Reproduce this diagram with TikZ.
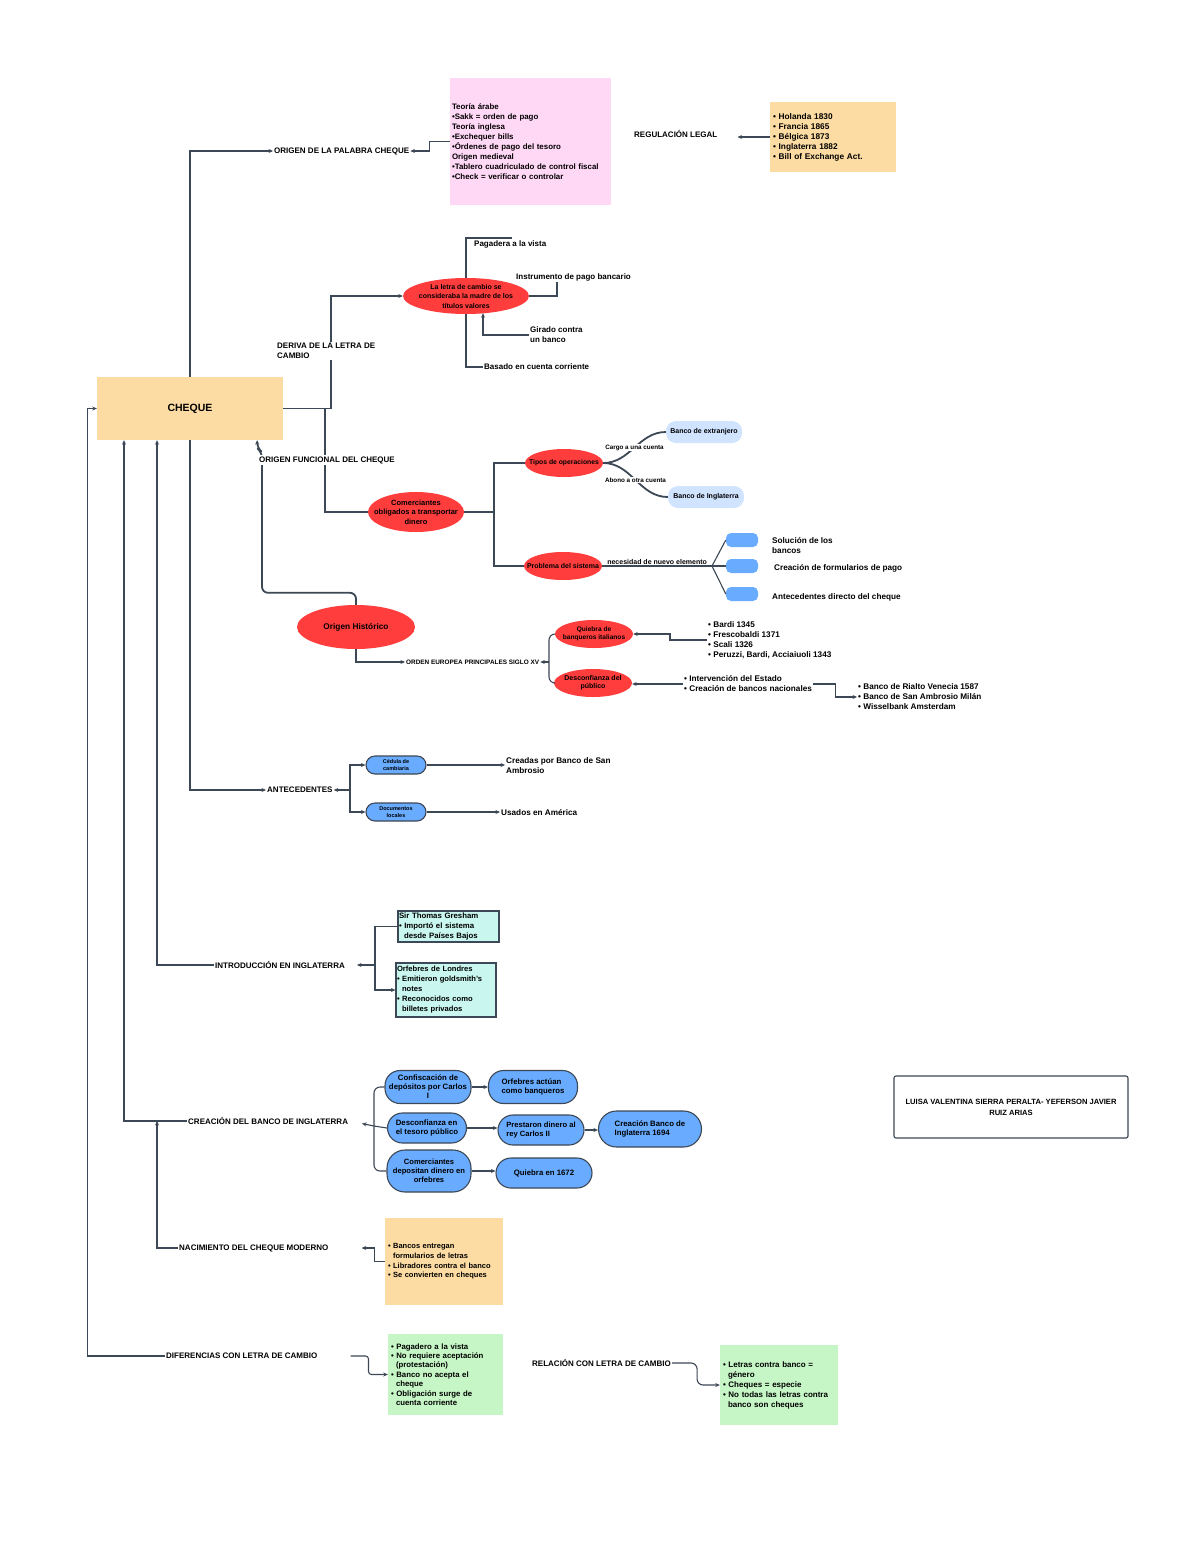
\documentclass[tikz,border=0pt]{standalone}
\usepackage{fontspec}
\setmainfont{Liberation Sans}
\usepackage{xcolor}
\usepackage{tikz}
\usetikzlibrary{shapes, arrows.meta, positioning, calc, shapes.geometric}

\definecolor{cheqorange}{HTML}{FDDCA3}
\definecolor{notepink}{HTML}{FFD8F6}
\definecolor{ovalred}{HTML}{FF3D3D}
\definecolor{paleblue}{HTML}{D0E3FF}
\definecolor{pillblue}{HTML}{68ABFF}
\definecolor{paleteal}{HTML}{C9F6EE}
\definecolor{palegreen}{HTML}{C6F6C6}
\definecolor{wire}{HTML}{3D4856}

\newcommand{\setfs}[2]{\fontsize{#1}{#2}\selectfont}

\begin{document}
\begin{tikzpicture}[x=1pt, y=-1pt,
    every node/.style={inner sep=1pt, font=\setfs{8}{10}\bfseries},
    tag/.style={anchor=west, align=left},
    note/.style={rectangle, align=left, inner sep=3pt},
    oval/.style={ellipse, fill=ovalred, inner sep=0pt},
    ovaltext/.style={align=center, inner sep=0pt},
    soft/.style={rectangle, rounded corners=10, fill=paleblue, align=center},
    pill/.style={rectangle, rounded corners=#1, draw=wire, line width=1.1pt, fill=pillblue, align=center, inner sep=1pt},
    link/.style={draw=wire, line width=1.1pt},
    trunk/.style={draw=wire, line width=1.8pt},
    arr/.style={-{Stealth[length=4.5pt, width=4pt]}}
]
\fill[white] (0,0) rectangle (1200,1553);
\useasboundingbox (0,0) rectangle (1200,1553);

% Central node
\node[rectangle, fill=cheqorange, minimum width=186, minimum height=63, font=\setfs{10.5}{12}\bfseries] (cheque) at (190,408.5) {CHEQUE};

% Origen de la palabra
\node[note, fill=notepink, text width=157, inner sep=2pt, minimum height=127, font=\setfs{7.9}{10}\bfseries] (palabraNote) at (530.5,141.5) {Teoría árabe\\•Sakk = orden de pago\\Teoría inglesa\\•Exchequer bills\\•Órdenes de pago del tesoro\\Origen medieval\\•Tablero cuadriculado de control fiscal\\•Check = verificar o controlar};
\node[tag] (palabra) at (273,151) {ORIGEN DE LA PALABRA CHEQUE};
\draw[trunk, arr] (cheque.north) |- (palabra.west);
\draw[link, arr] (palabraNote.west) -- ++(-20,0) |- (palabra.east);

% Regulacion legal
\node[note, fill=cheqorange, text width=120, minimum height=70, font=\setfs{8.3}{10}\bfseries] (leyes) at (833,137) {• Holanda 1830\\• Francia 1865\\• Bélgica 1873\\• Inglaterra 1882\\• Bill of Exchange Act.};
\node[tag] (regulacion) at (633,134) {REGULACIÓN LEGAL};
\draw[link, arr, shorten >=19pt] (leyes.west) -- (leyes.west -| regulacion.east);

% Deriva de la letra de cambio
\node[oval, minimum width=126, minimum height=36] (letra) at (466,296) {};
\node[ovaltext, font=\setfs{7}{9.5}\bfseries] (letraTxt) at (letra) {La letra de cambio se\\consideraba la madre de los\\títulos valores};
\draw[trunk, arr] (cheque.east) -- ++(48,0) |- (letra.west);
\node[tag, fill=white] (deriva) at (276,351) {DERIVA DE LA LETRA DE\\CAMBIO};
\node[tag] (pagadera) at (473,244) {Pagadera a la vista};
\coordinate (pagEnd) at (512,238);
\draw[link] (letra.north) |- (pagEnd);
\node[tag] (instrumento) at (515,277) {Instrumento de pago bancario};
\draw[trunk] (letra.east) -| (instrumento.south -| 557,0);
\node[tag] (girado) at (529,335) {Girado contra\\un banco};
\draw[link, arr] (girado.west) -| ($(letra.south)+(17,-1)$);
\node[tag] (basado) at (483,367) {Basado en cuenta corriente};
\draw[trunk] (letra.south) |- (basado.west);

% Origen funcional
\node[oval, minimum width=96, minimum height=40] (comerciantes) at (416,512) {};
\node[ovaltext, font=\setfs{7.5}{9.5}\bfseries] (comerciantesTxt) at (comerciantes) {Comerciantes\\obligados a transportar\\dinero};
\draw[trunk] (cheque.east) -- ++(42,0) |- (comerciantes.west);
\node[oval, minimum width=78, minimum height=28] (tipos) at (564,463) {};
\node[ovaltext, font=\setfs{6.8}{9}\bfseries] (tiposTxt) at (tipos) {Tipos de operaciones};
\node[oval, minimum width=78, minimum height=28] (problema) at (563,566) {};
\node[ovaltext, font=\setfs{7}{9}\bfseries] (problemaTxt) at (problema) {Problema del sistema};
\coordinate (forkA) at (494,512);
\draw[link] (comerciantes.east) -- (forkA);
\draw[link] (tipos.west) -| (forkA) |- (problema.west);

\node[soft, minimum width=76, minimum height=22, font=\setfs{7}{8}\bfseries] (bancoExt) at (704,432) {Banco de extranjero};
\node[soft, minimum width=76, minimum height=22, font=\setfs{7}{8}\bfseries] (bancoIng) at (706,497) {Banco de Inglaterra};
\draw[trunk] (tipos.east) to[out=0, in=180] node[midway, fill=white, inner sep=0.5pt, font=\setfs{6.3}{7}\bfseries] {Cargo a una cuenta} (bancoExt.west);
\draw[trunk] (tipos.east) to[out=0, in=180] node[midway, fill=white, inner sep=0.5pt, font=\setfs{6.3}{7}\bfseries] {Abono a otra cuenta} (bancoIng.west);

\coordinate (fan) at (712,566);
\draw[link] (problema.east) -- node[above, font=\setfs{7}{8}\bfseries] {necesidad de nuevo elemento} (fan);
\node[rectangle, rounded corners=5, fill=pillblue, minimum width=32, minimum height=14] (sol1) at (742,540) {};
\node[rectangle, rounded corners=5, fill=pillblue, minimum width=32, minimum height=14] (sol2) at (742,566) {};
\node[rectangle, rounded corners=5, fill=pillblue, minimum width=32, minimum height=14] (sol3) at (742,594) {};
\draw[link] (fan) -- (sol1.west);
\draw[link] (fan) -- (sol2.west);
\draw[link] (fan) -- (sol3.west);
\node[tag, font=\setfs{8.2}{10}\bfseries] (solTxt1) at (771,546) {Solución de los\\bancos};
\node[tag, font=\setfs{8.2}{10}\bfseries] (solTxt2) at (773,568) {Creación de formularios de pago};
\node[tag, font=\setfs{8.2}{10}\bfseries] (solTxt3) at (771,597) {Antecedentes directo del cheque};

% Origen historico
\node[oval, minimum width=118, minimum height=44] (historico) at (356,627) {};
\node[ovaltext, font=\setfs{8.3}{9}\bfseries] (historicoTxt) at (historico) {Origen Histórico};
\draw[trunk, arr, rounded corners=6] (historico.north) -- ++(0,-12) -| (262,452) -- (257,448) -- ($(cheque.south east)+(-26,0)$);
\node[tag, fill=white] (funcional) at (258,460) {ORIGEN FUNCIONAL DEL CHEQUE};
\node[tag, font=\setfs{6.4}{7}\bfseries] (orden) at (405,662) {ORDEN EUROPEA PRINCIPALES SIGLO XV};
\draw[link, arr] (historico.south) |- (orden.west);
\node[oval, minimum width=78, minimum height=28] (quiebra) at (594,634) {};
\node[ovaltext, font=\setfs{6.6}{8}\bfseries] (quiebraTxt) at (quiebra) {Quiebra de\\banqueros italianos};
\node[oval, minimum width=78, minimum height=28] (desconfianza) at (593,683) {};
\node[ovaltext, font=\setfs{7}{8}\bfseries] (desconfianzaTxt) at (desconfianza) {Desconfianza del\\público};
\coordinate (forkB) at (549,662);
\draw[link, rounded corners=6] (quiebra.west) -| (forkB) |- (desconfianza.west);
\draw[link, arr] (forkB) -- (orden.east);
\node[tag, font=\setfs{8.2}{10}\bfseries] (bardi) at (707,640) {• Bardi 1345\\• Frescobaldi 1371\\• Scali 1326\\• Peruzzi, Bardi, Acciaiuoli 1343};
\draw[link, arr] (bardi.west) -- ++(-37,0) |- (quiebra.east);
\node[tag, font=\setfs{8.2}{10}\bfseries] (estado) at (683,684) {• Intervención del Estado\\• Creación de bancos nacionales};
\draw[link, arr] (estado.west) -- (desconfianza.east |- estado.west);
\node[tag, font=\setfs{8.2}{10}\bfseries] (bancosNac) at (857,697) {• Banco de Rialto Venecia 1587\\• Banco de San Ambrosio Milán\\• Wisselbank Amsterdam};
\draw[link, arr] (estado.east) -- ++(22,0) |- (bancosNac.west);

% Antecedentes
\node[tag] (antecedentes) at (266,790) {ANTECEDENTES};
\draw[trunk, arr] (cheque.south) |- (antecedentes.west);
\node[pill=9, minimum width=60, minimum height=18, font=\setfs{5.5}{6.5}\bfseries] (cedula) at (396,765) {Cédula de\\cambiaria};
\node[pill=9, minimum width=60, minimum height=18, font=\setfs{5.5}{6.5}\bfseries] (documentos) at (396,812) {Documentos\\locales};
\coordinate (forkC) at (350,790);
\draw[link, arr] (forkC) -- (antecedentes.east);
\draw[link, arr] (forkC) |- (cedula.west);
\draw[link, arr] (forkC) |- (documentos.west);
\node[tag, font=\setfs{8.2}{10}\bfseries] (creadas) at (505,766) {Creadas por Banco de San\\Ambrosio};
\node[tag, font=\setfs{8.2}{10}\bfseries] (usados) at (500,813) {Usados en América};
\draw[link, arr] (cedula.east) -- (creadas.west |- cedula.east);
\draw[link, arr] (documentos.east) -- (usados.west |- documentos.east);

% Introduccion en Inglaterra
\node[tag] (intro) at (214,965) {INTRODUCCIÓN EN INGLATERRA};
\draw[trunk, arr] (intro.west) -| ($(cheque.south)+(-33,0)$);
\node[note, fill=paleteal, draw=wire, line width=1.1pt, text width=99, minimum height=31, inner sep=1pt, font=\setfs{7.8}{10}\bfseries] (gresham) at (448.5,926.5) {Sir Thomas Gresham\\• Importó el sistema\\\hspace*{5pt}desde Países Bajos};
\node[note, fill=paleteal, draw=wire, line width=1.1pt, text width=98, minimum height=54, inner sep=1pt, font=\setfs{7.6}{10}\bfseries] (orfebres) at (446,990) {Orfebres de Londres\\• Emitieron goldsmith's\\\hspace*{5pt}notes\\• Reconocidos como\\\hspace*{5pt}billetes privados};
\coordinate (forkD) at (375,965);
\draw[link, arr, shorten >=11pt] (forkD) -- (intro.east);
\draw[link] (gresham.west) -| (forkD);
\draw[link, arr] (forkD) |- (orfebres.west);

% Creacion del Banco de Inglaterra
\node[tag] (creacion) at (187,1121) {CREACIÓN DEL BANCO DE INGLATERRA};
\draw[trunk, arr] (creacion.west) -| ($(cheque.south)+(-66,0)$);
\node[pill=15, minimum width=86, minimum height=33, font=\setfs{7.8}{9}\bfseries] (confiscacion) at (428,1087) {Confiscación de\\depósitos por Carlos\\I};
\node[pill=15, minimum width=89, minimum height=33, font=\setfs{7.8}{9}\bfseries, align=left] (orfactuan) at (533,1087) {Orfebres actúan\\como banqueros};
\node[pill=15, minimum width=79, minimum height=30, font=\setfs{7.8}{9}\bfseries, align=left] (tesoro) at (427,1128) {Desconfianza en\\el tesoro público};
\node[pill=15, minimum width=86, minimum height=30, font=\setfs{7.6}{9}\bfseries, align=left] (prestamo) at (541,1130) {Prestaron dinero al\\rey Carlos II};
\node[pill=18, minimum width=103, minimum height=36, font=\setfs{7.8}{9}\bfseries, align=left] (bancoInglaterra) at (650,1129) {Creación Banco de\\Inglaterra 1694};
\node[pill=18, minimum width=84, minimum height=42, font=\setfs{7.6}{9}\bfseries] (depositan) at (429,1171) {Comerciantes\\depositan dinero en\\orfebres};
\node[pill=15, minimum width=96, minimum height=30, font=\setfs{7.8}{9}\bfseries, align=left] (quiebra1672) at (544,1173) {Quiebra en 1672};
\coordinate (forkE) at (374,1126);
\draw[link, arr, shorten >=13pt] (forkE) -- (creacion.east);
\draw[link, rounded corners=6] (confiscacion.west) -| (forkE) |- (depositan.west);
\draw[link] (tesoro.west) -- (forkE);
\draw[link, arr] (confiscacion.east) -- (orfactuan.west);
\draw[link, arr] (tesoro.east) -- (prestamo.west |- tesoro.east);
\draw[link, arr] (prestamo.east) -- (bancoInglaterra.west |- prestamo.east);
\draw[link, arr] (depositan.east) -- (quiebra1672.west |- depositan.east);

% Nacimiento del cheque moderno
\node[tag] (nacimiento) at (178,1248) {NACIMIENTO DEL CHEQUE MODERNO};
\draw[link, arr] (nacimiento.west) -| ($(creacion.west)+(-30,0)$);
\node[note, fill=cheqorange, text width=112, minimum height=87, font=\setfs{7.5}{9.7}\bfseries] (formularios) at (444,1261.5) {• Bancos entregan\\\hspace*{5pt}formularios de letras\\• Libradores contra el banco\\• Se convierten en cheques};
\draw[link, arr, shorten >=32pt] (formularios.west) -- ++(-10,0) |- (nacimiento.east);

% Diferencias con letra de cambio
\node[tag] (diferencias) at (165,1356) {DIFERENCIAS CON LETRA DE CAMBIO};
\draw[link, arr] (diferencias.west) -| ($(cheque.west)+(-9,0)$) -- (cheque.west);
\node[note, fill=palegreen, text width=109, minimum height=81, font=\setfs{7.8}{9.4}\bfseries] (difNote) at (445.5,1374.5) {• Pagadero a la vista\\• No requiere aceptación\\\hspace*{5pt}(protestación)\\• Banco no acepta el\\\hspace*{5pt}cheque\\• Obligación surge de\\\hspace*{5pt}cuenta corriente};
\draw[link, arr, rounded corners=3] ($(diferencias.east)+(32,0)$) -- ++(18,0) |- (difNote.west);

% Relacion con letra de cambio
\node[tag] (relacion) at (531,1363) {RELACIÓN CON LETRA DE CAMBIO};
\node[note, fill=palegreen, text width=112, minimum height=80, font=\setfs{8}{10}\bfseries] (relNote) at (779,1385) {• Letras contra banco =\\\hspace*{5pt}género\\• Cheques = especie\\• No todas las letras contra\\\hspace*{5pt}banco son cheques};
\draw[link, arr, rounded corners=6] (relacion.east) -- ++(25,0) |- (relNote.west);

% Autores
\node[rectangle, rounded corners=2, draw=wire, line width=1.1pt, minimum width=234, minimum height=62, align=center, font=\setfs{7.6}{11}\bfseries] (autores) at (1011,1107) {LUISA VALENTINA SIERRA PERALTA- YEFERSON JAVIER\\RUIZ ARIAS};

\end{tikzpicture}
\end{document}
